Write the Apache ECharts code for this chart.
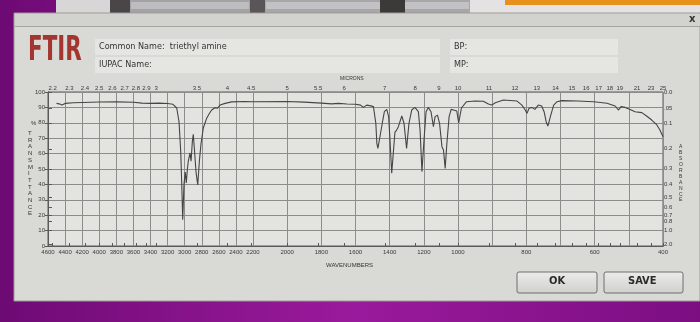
<!DOCTYPE html>
<html><head><meta charset="utf-8">
<script src="https://cdn.jsdelivr.net/npm/echarts@6/dist/echarts.min.js"></script>
<style>html,body{margin:0;padding:0;background:#8c148e;}#c{width:700px;height:322px;}</style>
</head><body><div id="c"></div>
<script>
// ---- data ----
const wavenumbers = [4500,4470,4436,4400,4300,4200,4000,3800,3600,3500,3400,3300,3200,3137,3093,3066,3046,3034,3023,3008,2993,2981,2968,2958,2937,2925,2910,2899,2887,2867,2847,2828,2808,2781,2770,2742,2711,2684,2645,2617,2586,2527,2450,2300,2200,2000,1900,1800,1740,1700,1650,1600,1570,1554,1534,1510,1495,1481,1475,1469,1462,1452,1440,1431,1417,1406,1398,1388,1379,1369,1359,1349,1329,1316,1301,1287,1271,1252,1232,1222,1211,1199,1187,1174,1158,1144,1134,1120,1108,1094,1085,1075,1065,1052,1040,1027,1017,1007,998,990,975,950,926,911,901,891,867,828,813,803,798,792,784,775,765,755,748,742,737,733,727,720,710,696,650,603,564,540,530,523,511,496,482,462,448,433,418,409,400];
const transmittance = [92.6,92.3,91.5,92.6,93,93.2,93.5,93.6,93.3,92.8,92.6,92.8,92.5,92,89.6,80.7,61,40,17,40,48,41,50,55,60.4,55,68,72.5,63.6,48,39.6,55,66.7,76.8,76.4,83,86,88.3,89.8,89.4,91.5,92.6,93.6,93.8,93.7,93.8,93.4,92.8,92.3,92.6,92.2,92,91.5,90,91.5,91,90.5,79.7,66.7,63.4,67.7,68,81.8,87.2,88.7,84,68.8,47.2,60,74,75.3,77.5,84.4,79.7,63.4,79.7,88.3,90,87.2,75.3,48.3,68.8,87.2,90,87.2,77.5,84,85,79.7,64.5,62.3,50.4,66.7,84,88.7,88.3,87.2,87.6,80,89.6,93.7,94.2,94,92.2,91.5,93,94.8,94.2,91.5,88.3,86.1,89.4,90,88.7,91.5,90.9,87.2,80.7,77.9,78.6,86.1,91.5,93.7,94.4,94.2,93.7,92.7,90.9,88.3,90.5,90,88.7,87.2,86.6,84.4,81.8,78.6,75.3,71];
const gridWavenumbers = [4600,4400,4200,4000,3800,3600,3400,3200,3000,2800,2600,2400,2200,2000,1800,1600,1400,1200,1000,900,800,700,600,500,400];
const wavenumberLabels = [4600,4400,4200,4000,3800,3600,3400,3200,3000,2800,2600,2400,2200,2000,1800,1600,1400,1200,1000,800,600,400];
const micronLabels = [2.2,2.3,2.4,2.5,2.6,2.7,2.8,2.9,3,3.5,4,4.5,5,5.5,6,7,8,9,10,11,12,13,14,15,16,17,18,19,21,23,25];
const transmittanceTicks = [0,10,20,30,40,50,60,70,80,90,100];
const absorbanceTicks = [0,0.05,0.1,0.2,0.3,0.4,0.5,0.6,0.7,0.8,1.0,2.0];
const absorbanceLabels = ['0.0','.05','0.1','0.2','0.3','0.4','0.5','0.6','0.7','0.8','1.0','2.0'];

// piecewise wavenumber scale of the instrument chart
function toU(w){ if(w>=2200) return (4600-w)/200; if(w>=1000) return 12+(2200-w)/100; return 24+(1000-w)/50; }
function fromU(u){ if(u<=12) return 4600-200*u; if(u<=24) return 2200-100*(u-12); return 1000-50*(u-24); }
const absT = absorbanceTicks.map(a=>100*Math.pow(10,-a));

const chart = echarts.init(document.getElementById('c'));
const lab = {fontFamily:'Liberation Sans', fontSize:6, color:'#3a3a3a'};
const purple = {type:'linear',x:0,y:0,x2:1,y2:0,colorStops:[{offset:0,color:'#6e0a74'},{offset:0.5,color:'#9a1a9c'},{offset:1,color:'#7c0e82'}]};
chart.setOption({
  animation:false,
  backgroundColor:'#8c148e',
  graphic:[
    // photo surroundings
    {type:'rect',z:-100,shape:{x:0,y:0,width:700,height:322},style:{fill:purple}},
    {type:'rect',z:-99,shape:{x:56,y:0,width:60,height:13},style:{fill:'#d8d6d6'}},
    {type:'rect',z:-99,shape:{x:110,y:0,width:20,height:13},style:{fill:'#4a4648'}},
    {type:'rect',z:-99,shape:{x:130,y:0,width:120,height:13},style:{fill:'#a4a2a4'}},
    {type:'rect',z:-99,shape:{x:131,y:2,width:118,height:7},style:{fill:'#bdbcbe'}},
    {type:'rect',z:-99,shape:{x:250,y:0,width:15,height:13},style:{fill:'#5a5658'}},
    {type:'rect',z:-99,shape:{x:265,y:0,width:205,height:13},style:{fill:'#a8a6a8'}},
    {type:'rect',z:-99,shape:{x:266,y:2,width:203,height:7},style:{fill:'#c2c1c3'}},
    {type:'rect',z:-99,shape:{x:380,y:0,width:25,height:13},style:{fill:'#3c3a38'}},
    {type:'rect',z:-99,shape:{x:470,y:0,width:230,height:13},style:{fill:'#e4e2e2'}},
    {type:'rect',z:-99,shape:{x:505,y:0,width:195,height:5},style:{fill:'#e8901e'}},
    // dialog
    {type:'rect',z:-98,shape:{x:14,y:13,width:686,height:288},style:{fill:'#d9d9d5',stroke:'#9a9a98',lineWidth:1}},
    {type:'rect',z:-97,shape:{x:15,y:14,width:685,height:12},style:{fill:'#d2d2ce'}},
    {type:'line',z:-97,shape:{x1:15,y1:26.5,x2:700,y2:26.5},style:{stroke:'#a4a4a0',lineWidth:1}},
    {type:'text',z:5,left:689,top:14,style:{text:'x',font:'bold 10px "DejaVu Sans"',fill:'#333'}},
    {type:'rect',z:-96,shape:{x:95,y:39,width:345,height:16},style:{fill:'#e5e5e2'}},
    {type:'rect',z:-96,shape:{x:95,y:57,width:345,height:16},style:{fill:'#e5e5e2'}},
    {type:'rect',z:-96,shape:{x:450,y:39,width:168,height:16},style:{fill:'#e5e5e2'}},
    {type:'rect',z:-96,shape:{x:450,y:57,width:168,height:16},style:{fill:'#e5e5e2'}},
    {type:'text',z:5,x:28,y:34,scaleX:0.7,style:{text:'FTIR',font:'bold 34px "DejaVu Sans Condensed"',fill:'#a33631'}},
    {type:'text',z:5,left:99,top:42,style:{text:'Common Name:  triethyl amine',font:'9px "DejaVu Sans Condensed"',fill:'#333'}},
    {type:'text',z:5,left:99,top:60,style:{text:'IUPAC Name:',font:'9px "DejaVu Sans Condensed"',fill:'#333'}},
    {type:'text',z:5,left:454,top:42,style:{text:'BP:',font:'9px "DejaVu Sans Condensed"',fill:'#333'}},
    {type:'text',z:5,left:454,top:60,style:{text:'MP:',font:'9px "DejaVu Sans Condensed"',fill:'#333'}},
    // axis titles
    {type:'text',z:5,left:340,top:76,style:{text:'MICRONS',font:'5px "Liberation Sans"',fill:'#333'}},
    {type:'text',z:5,left:326,top:262,style:{text:'WAVENUMBERS',font:'6px "Liberation Sans"',fill:'#333'}},
    {type:'text',z:5,left:31,top:120,style:{text:'%',font:'6px "Liberation Sans"',fill:'#333'}},
    {type:'text',z:5,left:28,top:130,style:{text:'T\nR\nA\nN\nS\nM\nI\nT\nT\nA\nN\nC\nE',font:'6px "Liberation Sans"',lineHeight:6.7,fill:'#333',align:'left'}},
    {type:'text',z:5,left:679,top:144,style:{text:'A\nB\nS\nO\nR\nB\nA\nN\nC\nE',font:'5px "Liberation Sans"',lineHeight:5.9,fill:'#333'}},
    // buttons
    {type:'rect',z:5,shape:{x:517,y:272,width:80,height:21,r:2},style:{fill:{type:'linear',x:0,y:0,x2:0,y2:1,colorStops:[{offset:0,color:'#ececea'},{offset:1,color:'#cfcfcc'}]},stroke:'#6e6e6e',lineWidth:1}},
    {type:'rect',z:5,shape:{x:604,y:272,width:79,height:21,r:2},style:{fill:{type:'linear',x:0,y:0,x2:0,y2:1,colorStops:[{offset:0,color:'#ececea'},{offset:1,color:'#cfcfcc'}]},stroke:'#6e6e6e',lineWidth:1}},
    {type:'text',z:6,left:549,top:276,style:{text:'OK',font:'bold 11px "DejaVu Sans Condensed"',fill:'#2a2a2a'}},
    {type:'text',z:6,left:628,top:276,style:{text:'SAVE',font:'bold 11px "DejaVu Sans Condensed"',fill:'#2a2a2a'}}
  ],
  grid:{left:48,right:37,top:92,bottom:76,show:true,backgroundColor:'#e3e3df',borderColor:'#5a5a5a',borderWidth:1},
  xAxis:[
    {type:'value',min:0,max:36,position:'bottom',
     axisLine:{show:true,lineStyle:{color:'#5a5a5a'}},
     axisTick:{show:false,customValues:gridWavenumbers.map(toU)},
     splitLine:{show:true,lineStyle:{color:'#8c8c8a',width:1}},
     axisLabel:{...lab,margin:3,customValues:wavenumberLabels.map(toU),formatter:v=>String(Math.round(fromU(v)))}},
    {type:'value',min:0,max:36,position:'top',
     axisLine:{show:true,lineStyle:{color:'#5a5a5a'}},
     axisTick:{show:true,length:3,inside:false,lineStyle:{color:'#5a5a5a'},customValues:micronLabels.map(m=>toU(10000/m))},
     splitLine:{show:false},
     axisLabel:{...lab,margin:1,customValues:micronLabels.map(m=>toU(10000/m)),formatter:v=>String(Math.round(10000/fromU(v)*10)/10)}}
  ],
  yAxis:[
    {type:'value',min:0,max:100,interval:10,position:'left',
     axisLine:{show:true,lineStyle:{color:'#5a5a5a'}},
     axisTick:{show:true,length:3,lineStyle:{color:'#5a5a5a'}},
     splitLine:{show:true,lineStyle:{color:'#8c8c8a',width:1}},
     axisLabel:{...lab,margin:3,formatter:v=>String(v)}},
    {type:'value',min:0,max:100,position:'right',
     axisLine:{show:true,lineStyle:{color:'#5a5a5a'}},
     axisTick:{show:true,length:4,lineStyle:{color:'#5a5a5a'},customValues:absT},
     splitLine:{show:false},
     axisLabel:{...lab,margin:1,customValues:absT,formatter:v=>{let k=0,d=1e9;absT.forEach((t,i)=>{if(Math.abs(t-v)<d){d=Math.abs(t-v);k=i;}});return absorbanceLabels[k];}}}
  ],
  series:[{type:'line',xAxisIndex:0,yAxisIndex:0,showSymbol:false,symbol:'none',
    lineStyle:{color:'#454545',width:1.1},
    data:wavenumbers.map((w,i)=>[toU(w),transmittance[i]])}]
});
</script></body></html>
